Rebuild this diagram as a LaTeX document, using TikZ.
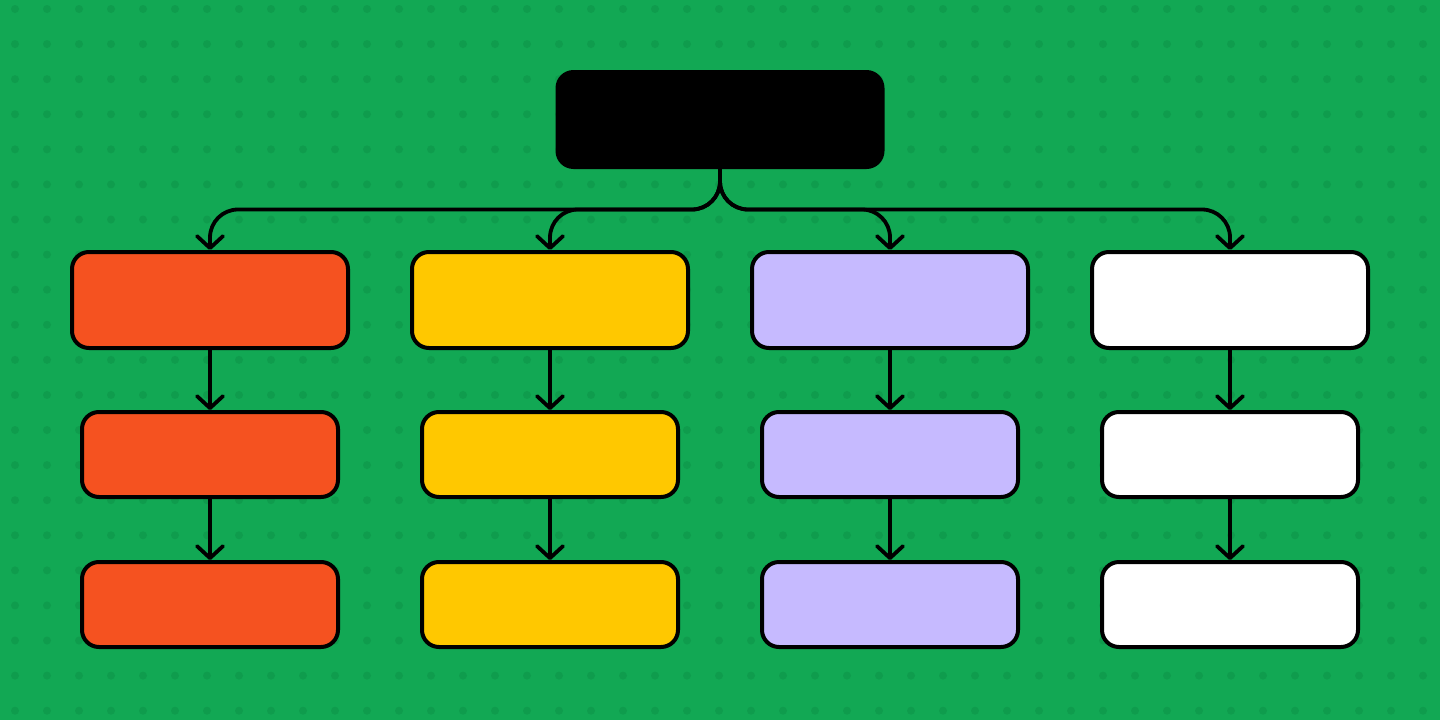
\documentclass[tikz,border=0pt]{standalone}
\usetikzlibrary{arrows.meta}
\definecolor{bg}{HTML}{12A854}
\definecolor{dotc}{HTML}{0F9C4D}
\definecolor{orng}{HTML}{F55220}
\definecolor{yell}{HTML}{FFC800}
\definecolor{lav}{HTML}{C6BAFF}
\tikzset{
  box/.style={draw=black, line width=4pt, rounded corners=17pt, minimum width=276pt, minimum height=96pt, inner sep=0pt},
  smallbox/.style={box, minimum width=256pt, minimum height=85pt},
  topbox/.style={fill=black, rounded corners=18pt, minimum width=329pt, minimum height=99pt, inner sep=0pt, outer sep=0pt},
  conn/.style={draw=black, line width=3.8pt, rounded corners=28pt, line cap=round,
    -{Straight Barb[length=12pt,width=26pt,round]}},
}
\begin{document}
\begin{tikzpicture}[x=1pt,y=-1pt]
\fill[bg] (0,0) rectangle (1440,720);
\useasboundingbox (0,0) rectangle (1440,720);
\foreach \i in {0,...,44} {
  \foreach \j in {0,...,20} {
    \fill[dotc] (15+32*\i, 9+35.085*\j) circle (4pt);
  }
}
\node[topbox] (top) at (720,119.5) {};
\node[box, fill=orng] (a1) at (210,300) {};
\node[box, fill=yell] (b1) at (550,300) {};
\node[box, fill=lav] (c1) at (890,300) {};
\node[box, fill=white] (d1) at (1230,300) {};
\node[smallbox, fill=orng] (a2) at (210,454.5) {};
\node[smallbox, fill=yell] (b2) at (550,454.5) {};
\node[smallbox, fill=lav] (c2) at (890,454.5) {};
\node[smallbox, fill=white] (d2) at (1230,454.5) {};
\node[smallbox, fill=orng] (a3) at (210,604.5) {};
\node[smallbox, fill=yell] (b3) at (550,604.5) {};
\node[smallbox, fill=lav] (c3) at (890,604.5) {};
\node[smallbox, fill=white] (d3) at (1230,604.5) {};
\coordinate (hub) at (720,209.5);
\foreach \n in {a1,b1,c1,d1} {
  \draw[conn] (top.south) -- (hub) -| (\n.north);
}
\foreach \u/\v in {a1/a2,a2/a3,b1/b2,b2/b3,c1/c2,c2/c3,d1/d2,d2/d3} {
  \draw[conn] (\u.south) -- (\v.north);
}
\end{tikzpicture}
\end{document}
